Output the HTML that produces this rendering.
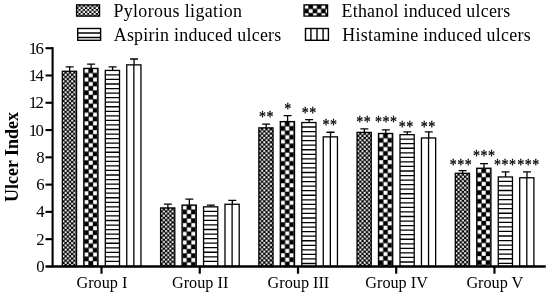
<!DOCTYPE html>
<html><head><meta charset="utf-8"><title>Ulcer Index</title>
<style>
html,body{margin:0;padding:0;background:#fff;}
svg{display:block;}
text{font-family:"Liberation Serif",serif;fill:#000;}
</style></head><body>
<svg width="550" height="296" viewBox="0 0 550 296">
<rect width="550" height="296" fill="#fff"/>

<path d="M69.65 71.26V66.96M65.65 66.96H73.65" stroke="#000" stroke-width="1.3" fill="none"/>
<pattern id="f0" patternUnits="userSpaceOnUse" width="4.374" height="4.374" x="62.35" y="71.46"><rect width="4.374" height="4.374" fill="#000"/><rect x="0.12" y="0.12" width="1.95" height="1.950" fill="#fff"/><rect x="2.31" y="2.31" width="1.95" height="1.950" fill="#fff"/></pattern>
<rect x="62.35" y="71.26" width="14.2" height="195.19" fill="url(#f0)" stroke="#000" stroke-width="1.3"/>
<path d="M91.10 68.40V64.17M87.10 64.17H95.10" stroke="#000" stroke-width="1.3" fill="none"/>
<pattern id="c0" patternUnits="userSpaceOnUse" width="8.746" height="8.746" x="84.20" y="68.70"><rect width="8.746" height="8.746" fill="#000"/><rect x="0.19" y="0.19" width="4.0" height="4.000" fill="#fff"/><rect x="4.56" y="4.56" width="4.0" height="4.000" fill="#fff"/></pattern>
<rect x="83.80" y="68.40" width="14.2" height="198.05" fill="url(#c0)" stroke="#000" stroke-width="1.3"/>
<path d="M112.60 70.44V66.83M108.60 66.83H116.60" stroke="#000" stroke-width="1.3" fill="none"/>
<rect x="105.30" y="70.44" width="14.2" height="196.01" fill="#fff" stroke="#000" stroke-width="1.3"/>
<path d="M105.30 74.89H119.50M105.30 79.44H119.50M105.30 83.99H119.50M105.30 88.54H119.50M105.30 93.09H119.50M105.30 97.64H119.50M105.30 102.19H119.50M105.30 106.74H119.50M105.30 111.29H119.50M105.30 115.84H119.50M105.30 120.39H119.50M105.30 124.94H119.50M105.30 129.49H119.50M105.30 134.04H119.50M105.30 138.59H119.50M105.30 143.14H119.50M105.30 147.69H119.50M105.30 152.24H119.50M105.30 156.79H119.50M105.30 161.34H119.50M105.30 165.89H119.50M105.30 170.44H119.50M105.30 174.99H119.50M105.30 179.54H119.50M105.30 184.09H119.50M105.30 188.64H119.50M105.30 193.19H119.50M105.30 197.74H119.50M105.30 202.29H119.50M105.30 206.84H119.50M105.30 211.39H119.50M105.30 215.94H119.50M105.30 220.49H119.50M105.30 225.04H119.50M105.30 229.59H119.50M105.30 234.14H119.50M105.30 238.69H119.50M105.30 243.24H119.50M105.30 247.79H119.50M105.30 252.34H119.50M105.30 256.89H119.50M105.30 261.44H119.50" stroke="#000" stroke-width="1.3" fill="none"/>
<path d="M134.05 64.85V58.99M130.05 58.99H138.05" stroke="#000" stroke-width="1.3" fill="none"/>
<rect x="126.75" y="64.85" width="14.2" height="201.60" fill="#fff" stroke="#000" stroke-width="1.3"/>
<path d="M133.85 64.85V266.45" stroke="#000" stroke-width="1.3" fill="none"/>
<path d="M167.90 207.93V204.12M163.90 204.12H171.90" stroke="#000" stroke-width="1.3" fill="none"/>
<pattern id="f1" patternUnits="userSpaceOnUse" width="4.374" height="4.374" x="160.60" y="208.13"><rect width="4.374" height="4.374" fill="#000"/><rect x="0.12" y="0.12" width="1.95" height="1.950" fill="#fff"/><rect x="2.31" y="2.31" width="1.95" height="1.950" fill="#fff"/></pattern>
<rect x="160.60" y="207.93" width="14.2" height="58.52" fill="url(#f1)" stroke="#000" stroke-width="1.3"/>
<path d="M189.35 205.07V199.20M185.35 199.20H193.35" stroke="#000" stroke-width="1.3" fill="none"/>
<pattern id="c1" patternUnits="userSpaceOnUse" width="8.746" height="8.746" x="182.45" y="205.37"><rect width="8.746" height="8.746" fill="#000"/><rect x="0.19" y="0.19" width="4.0" height="4.000" fill="#fff"/><rect x="4.56" y="4.56" width="4.0" height="4.000" fill="#fff"/></pattern>
<rect x="182.05" y="205.07" width="14.2" height="61.38" fill="url(#c1)" stroke="#000" stroke-width="1.3"/>
<path d="M210.85 206.84V205.07M206.85 205.07H214.85" stroke="#000" stroke-width="1.3" fill="none"/>
<rect x="203.55" y="206.84" width="14.2" height="59.61" fill="#fff" stroke="#000" stroke-width="1.3"/>
<path d="M203.55 211.29H217.75M203.55 215.84H217.75M203.55 220.39H217.75M203.55 224.94H217.75M203.55 229.49H217.75M203.55 234.04H217.75M203.55 238.59H217.75M203.55 243.14H217.75M203.55 247.69H217.75M203.55 252.24H217.75M203.55 256.79H217.75M203.55 261.34H217.75" stroke="#000" stroke-width="1.3" fill="none"/>
<path d="M232.30 204.25V200.43M228.30 200.43H236.30" stroke="#000" stroke-width="1.3" fill="none"/>
<rect x="225.00" y="204.25" width="14.2" height="62.20" fill="#fff" stroke="#000" stroke-width="1.3"/>
<path d="M232.10 204.25V266.45" stroke="#000" stroke-width="1.3" fill="none"/>
<path d="M266.15 127.87V124.18M262.15 124.18H270.15" stroke="#000" stroke-width="1.3" fill="none"/>
<pattern id="f2" patternUnits="userSpaceOnUse" width="4.374" height="4.374" x="258.85" y="128.07"><rect width="4.374" height="4.374" fill="#000"/><rect x="0.12" y="0.12" width="1.95" height="1.950" fill="#fff"/><rect x="2.31" y="2.31" width="1.95" height="1.950" fill="#fff"/></pattern>
<rect x="258.85" y="127.87" width="14.2" height="138.58" fill="url(#f2)" stroke="#000" stroke-width="1.3"/>
<text transform="translate(266.55,114.20) scale(1,1.2)" y="6.35" font-size="14" letter-spacing="0.5" text-anchor="middle" stroke="#000" stroke-width="0.25">**</text>
<path d="M287.60 121.59V115.59M283.60 115.59H291.60" stroke="#000" stroke-width="1.3" fill="none"/>
<pattern id="c2" patternUnits="userSpaceOnUse" width="8.746" height="8.746" x="280.70" y="121.89"><rect width="8.746" height="8.746" fill="#000"/><rect x="0.19" y="0.19" width="4.0" height="4.000" fill="#fff"/><rect x="4.56" y="4.56" width="4.0" height="4.000" fill="#fff"/></pattern>
<rect x="280.30" y="121.59" width="14.2" height="144.86" fill="url(#c2)" stroke="#000" stroke-width="1.3"/>
<text transform="translate(288.05,105.90) scale(1,1.2)" y="6.35" font-size="14" letter-spacing="0.5" text-anchor="middle" stroke="#000" stroke-width="0.25">*</text>
<path d="M309.10 122.55V119.55M305.10 119.55H313.10" stroke="#000" stroke-width="1.3" fill="none"/>
<rect x="301.80" y="122.55" width="14.2" height="143.90" fill="#fff" stroke="#000" stroke-width="1.3"/>
<path d="M301.80 127.00H316.00M301.80 131.55H316.00M301.80 136.10H316.00M301.80 140.65H316.00M301.80 145.20H316.00M301.80 149.75H316.00M301.80 154.30H316.00M301.80 158.85H316.00M301.80 163.40H316.00M301.80 167.95H316.00M301.80 172.50H316.00M301.80 177.05H316.00M301.80 181.60H316.00M301.80 186.15H316.00M301.80 190.70H316.00M301.80 195.25H316.00M301.80 199.80H316.00M301.80 204.35H316.00M301.80 208.90H316.00M301.80 213.45H316.00M301.80 218.00H316.00M301.80 222.55H316.00M301.80 227.10H316.00M301.80 231.65H316.00M301.80 236.20H316.00M301.80 240.75H316.00M301.80 245.30H316.00M301.80 249.85H316.00M301.80 254.40H316.00M301.80 258.95H316.00M301.80 263.50H316.00" stroke="#000" stroke-width="1.3" fill="none"/>
<text transform="translate(309.25,110.00) scale(1,1.2)" y="6.35" font-size="14" letter-spacing="0.5" text-anchor="middle" stroke="#000" stroke-width="0.25">**</text>
<path d="M330.55 136.87V132.23M326.55 132.23H334.55" stroke="#000" stroke-width="1.3" fill="none"/>
<rect x="323.25" y="136.87" width="14.2" height="129.58" fill="#fff" stroke="#000" stroke-width="1.3"/>
<path d="M330.35 136.87V266.45" stroke="#000" stroke-width="1.3" fill="none"/>
<text transform="translate(330.05,122.60) scale(1,1.2)" y="6.35" font-size="14" letter-spacing="0.5" text-anchor="middle" stroke="#000" stroke-width="0.25">**</text>
<path d="M364.35 132.37V128.96M360.35 128.96H368.35" stroke="#000" stroke-width="1.3" fill="none"/>
<pattern id="f3" patternUnits="userSpaceOnUse" width="4.374" height="4.374" x="357.05" y="132.57"><rect width="4.374" height="4.374" fill="#000"/><rect x="0.12" y="0.12" width="1.95" height="1.950" fill="#fff"/><rect x="2.31" y="2.31" width="1.95" height="1.950" fill="#fff"/></pattern>
<rect x="357.05" y="132.37" width="14.2" height="134.08" fill="url(#f3)" stroke="#000" stroke-width="1.3"/>
<text transform="translate(363.75,119.70) scale(1,1.2)" y="6.35" font-size="14" letter-spacing="0.5" text-anchor="middle" stroke="#000" stroke-width="0.25">**</text>
<path d="M385.80 133.46V129.78M381.80 129.78H389.80" stroke="#000" stroke-width="1.3" fill="none"/>
<pattern id="c3" patternUnits="userSpaceOnUse" width="8.746" height="8.746" x="378.90" y="133.76"><rect width="8.746" height="8.746" fill="#000"/><rect x="0.19" y="0.19" width="4.0" height="4.000" fill="#fff"/><rect x="4.56" y="4.56" width="4.0" height="4.000" fill="#fff"/></pattern>
<rect x="378.50" y="133.46" width="14.2" height="132.99" fill="url(#c3)" stroke="#000" stroke-width="1.3"/>
<text transform="translate(386.15,119.20) scale(1,1.2)" y="6.35" font-size="14" letter-spacing="0.5" text-anchor="middle" stroke="#000" stroke-width="0.25">***</text>
<path d="M407.30 134.69V131.96M403.30 131.96H411.30" stroke="#000" stroke-width="1.3" fill="none"/>
<rect x="400.00" y="134.69" width="14.2" height="131.76" fill="#fff" stroke="#000" stroke-width="1.3"/>
<path d="M400.00 139.14H414.20M400.00 143.69H414.20M400.00 148.24H414.20M400.00 152.79H414.20M400.00 157.34H414.20M400.00 161.89H414.20M400.00 166.44H414.20M400.00 170.99H414.20M400.00 175.54H414.20M400.00 180.09H414.20M400.00 184.64H414.20M400.00 189.19H414.20M400.00 193.74H414.20M400.00 198.29H414.20M400.00 202.84H414.20M400.00 207.39H414.20M400.00 211.94H414.20M400.00 216.49H414.20M400.00 221.04H414.20M400.00 225.59H414.20M400.00 230.14H414.20M400.00 234.69H414.20M400.00 239.24H414.20M400.00 243.79H414.20M400.00 248.34H414.20M400.00 252.89H414.20M400.00 257.44H414.20M400.00 261.99H414.20" stroke="#000" stroke-width="1.3" fill="none"/>
<text transform="translate(406.35,124.30) scale(1,1.2)" y="6.35" font-size="14" letter-spacing="0.5" text-anchor="middle" stroke="#000" stroke-width="0.25">**</text>
<path d="M428.75 137.96V131.96M424.75 131.96H432.75" stroke="#000" stroke-width="1.3" fill="none"/>
<rect x="421.45" y="137.96" width="14.2" height="128.49" fill="#fff" stroke="#000" stroke-width="1.3"/>
<path d="M428.55 137.96V266.45" stroke="#000" stroke-width="1.3" fill="none"/>
<text transform="translate(428.15,124.30) scale(1,1.2)" y="6.35" font-size="14" letter-spacing="0.5" text-anchor="middle" stroke="#000" stroke-width="0.25">**</text>
<path d="M462.60 173.29V170.56M458.60 170.56H466.60" stroke="#000" stroke-width="1.3" fill="none"/>
<pattern id="f4" patternUnits="userSpaceOnUse" width="4.374" height="4.374" x="455.30" y="173.49"><rect width="4.374" height="4.374" fill="#000"/><rect x="0.12" y="0.12" width="1.95" height="1.950" fill="#fff"/><rect x="2.31" y="2.31" width="1.95" height="1.950" fill="#fff"/></pattern>
<rect x="455.30" y="173.29" width="14.2" height="93.16" fill="url(#f4)" stroke="#000" stroke-width="1.3"/>
<text transform="translate(460.95,162.40) scale(1,1.2)" y="6.35" font-size="14" letter-spacing="0.5" text-anchor="middle" stroke="#000" stroke-width="0.25">***</text>
<path d="M484.05 168.24V163.60M480.05 163.60H488.05" stroke="#000" stroke-width="1.3" fill="none"/>
<pattern id="c4" patternUnits="userSpaceOnUse" width="8.746" height="8.746" x="477.15" y="168.54"><rect width="8.746" height="8.746" fill="#000"/><rect x="0.19" y="0.19" width="4.0" height="4.000" fill="#fff"/><rect x="4.56" y="4.56" width="4.0" height="4.000" fill="#fff"/></pattern>
<rect x="476.75" y="168.24" width="14.2" height="98.21" fill="url(#c4)" stroke="#000" stroke-width="1.3"/>
<text transform="translate(484.15,153.30) scale(1,1.2)" y="6.35" font-size="14" letter-spacing="0.5" text-anchor="middle" stroke="#000" stroke-width="0.25">***</text>
<path d="M505.55 176.97V171.92M501.55 171.92H509.55" stroke="#000" stroke-width="1.3" fill="none"/>
<rect x="498.25" y="176.97" width="14.2" height="89.48" fill="#fff" stroke="#000" stroke-width="1.3"/>
<path d="M498.25 181.42H512.45M498.25 185.97H512.45M498.25 190.52H512.45M498.25 195.07H512.45M498.25 199.62H512.45M498.25 204.17H512.45M498.25 208.72H512.45M498.25 213.27H512.45M498.25 217.82H512.45M498.25 222.37H512.45M498.25 226.92H512.45M498.25 231.47H512.45M498.25 236.02H512.45M498.25 240.57H512.45M498.25 245.12H512.45M498.25 249.67H512.45M498.25 254.22H512.45M498.25 258.77H512.45M498.25 263.32H512.45" stroke="#000" stroke-width="1.3" fill="none"/>
<text transform="translate(505.25,162.40) scale(1,1.2)" y="6.35" font-size="14" letter-spacing="0.5" text-anchor="middle" stroke="#000" stroke-width="0.25">***</text>
<path d="M527.00 177.79V171.92M523.00 171.92H531.00" stroke="#000" stroke-width="1.3" fill="none"/>
<rect x="519.70" y="177.79" width="14.2" height="88.66" fill="#fff" stroke="#000" stroke-width="1.3"/>
<path d="M526.80 177.79V266.45" stroke="#000" stroke-width="1.3" fill="none"/>
<text transform="translate(528.45,162.40) scale(1,1.2)" y="6.35" font-size="14" letter-spacing="0.5" text-anchor="middle" stroke="#000" stroke-width="0.25">***</text>
<path d="M45.5 266.45H545.8" stroke="#000" stroke-width="2.6" fill="none"/>
<path d="M52.6 47.21V266.45" stroke="#000" stroke-width="2.1" fill="none"/>
<text x="36.2" y="271.95" font-size="16.8">0</text>
<path d="M45.5 239.17H53" stroke="#000" stroke-width="2.1" fill="none"/>
<text x="36.2" y="244.67" font-size="16.8">2</text>
<path d="M45.5 211.89H53" stroke="#000" stroke-width="2.1" fill="none"/>
<text x="36.2" y="217.39" font-size="16.8">4</text>
<path d="M45.5 184.61H53" stroke="#000" stroke-width="2.1" fill="none"/>
<text x="36.2" y="190.11" font-size="16.8">6</text>
<path d="M45.5 157.33H53" stroke="#000" stroke-width="2.1" fill="none"/>
<text x="36.2" y="162.83" font-size="16.8">8</text>
<path d="M45.5 130.05H53" stroke="#000" stroke-width="2.1" fill="none"/>
<text x="28.7" y="135.55" font-size="16.8">1<tspan dx="-1.6">0</tspan></text>
<path d="M45.5 102.77H53" stroke="#000" stroke-width="2.1" fill="none"/>
<text x="28.7" y="108.27" font-size="16.8">1<tspan dx="-1.6">2</tspan></text>
<path d="M45.5 75.49H53" stroke="#000" stroke-width="2.1" fill="none"/>
<text x="28.7" y="80.99" font-size="16.8">1<tspan dx="-1.6">4</tspan></text>
<path d="M45.5 48.21H53" stroke="#000" stroke-width="2.1" fill="none"/>
<text x="28.7" y="53.71" font-size="16.8">1<tspan dx="-1.6">6</tspan></text>
<path d="M101.5 266.45V273.7" stroke="#000" stroke-width="2.2" fill="none"/>
<text transform="translate(101.90,288.3) scale(0.955,1)" font-size="17" text-anchor="middle">Group I</text>
<path d="M199.75 266.45V273.7" stroke="#000" stroke-width="2.2" fill="none"/>
<text transform="translate(200.15,288.3) scale(0.955,1)" font-size="17" text-anchor="middle">Group II</text>
<path d="M298.0 266.45V273.7" stroke="#000" stroke-width="2.2" fill="none"/>
<text transform="translate(298.40,288.3) scale(0.955,1)" font-size="17" text-anchor="middle">Group III</text>
<path d="M396.2 266.45V273.7" stroke="#000" stroke-width="2.2" fill="none"/>
<text transform="translate(396.60,288.3) scale(0.955,1)" font-size="17" text-anchor="middle">Group IV</text>
<path d="M494.45 266.45V273.7" stroke="#000" stroke-width="2.2" fill="none"/>
<text transform="translate(494.85,288.3) scale(0.955,1)" font-size="17" text-anchor="middle">Group V</text>
<text transform="translate(17.5,202.0) rotate(-90)" font-size="18" font-weight="bold" textLength="90" lengthAdjust="spacing">Ulcer Index</text>
<pattern id="fl" patternUnits="userSpaceOnUse" width="4.320" height="4.100" x="76.30" y="4.80"><rect width="4.320" height="4.100" fill="#000"/><rect x="0.00" y="0.00" width="2.16" height="2.050" fill="#fff"/><rect x="2.16" y="2.05" width="2.16" height="2.050" fill="#fff"/></pattern>
<rect x="76.6" y="4.9" width="22.9" height="11.2" fill="url(#fl)" stroke="#000" stroke-width="1.4"/>
<text x="113.4" y="17" font-size="17.9" textLength="128.6" lengthAdjust="spacing">Pylorous ligation</text>
<rect x="77.7" y="28.5" width="22.9" height="11.8" fill="#fff" stroke="#000" stroke-width="1.4"/>
<path d="M77.7 33H100.6M77.7 37.5H100.6" stroke="#000" stroke-width="1.4" fill="none"/>
<text x="113.7" y="41" font-size="17.9" textLength="167.6" lengthAdjust="spacing">Aspirin induced ulcers</text>
<pattern id="cl" patternUnits="userSpaceOnUse" width="8.440" height="8.440" x="304.40" y="4.70"><rect width="8.440" height="8.440" fill="#000"/><rect x="0.21" y="0.21" width="3.8" height="3.800" fill="#fff"/><rect x="4.43" y="4.43" width="3.8" height="3.800" fill="#fff"/></pattern>
<rect x="304.0" y="4.9" width="23.6" height="11.2" fill="url(#cl)" stroke="#000" stroke-width="1.3"/>
<text x="341.6" y="17" font-size="17.9" textLength="168.6" lengthAdjust="spacing">Ethanol induced ulcers</text>
<rect x="305.5" y="28.5" width="22.9" height="11.8" fill="#fff" stroke="#000" stroke-width="1.4"/>
<path d="M310.9 28.5V40.3M317 28.5V40.3M323.1 28.5V40.3" stroke="#000" stroke-width="1.4" fill="none"/>
<text x="342.3" y="41" font-size="17.9" textLength="188.5" lengthAdjust="spacing">Histamine induced ulcers</text>
</svg></body></html>
